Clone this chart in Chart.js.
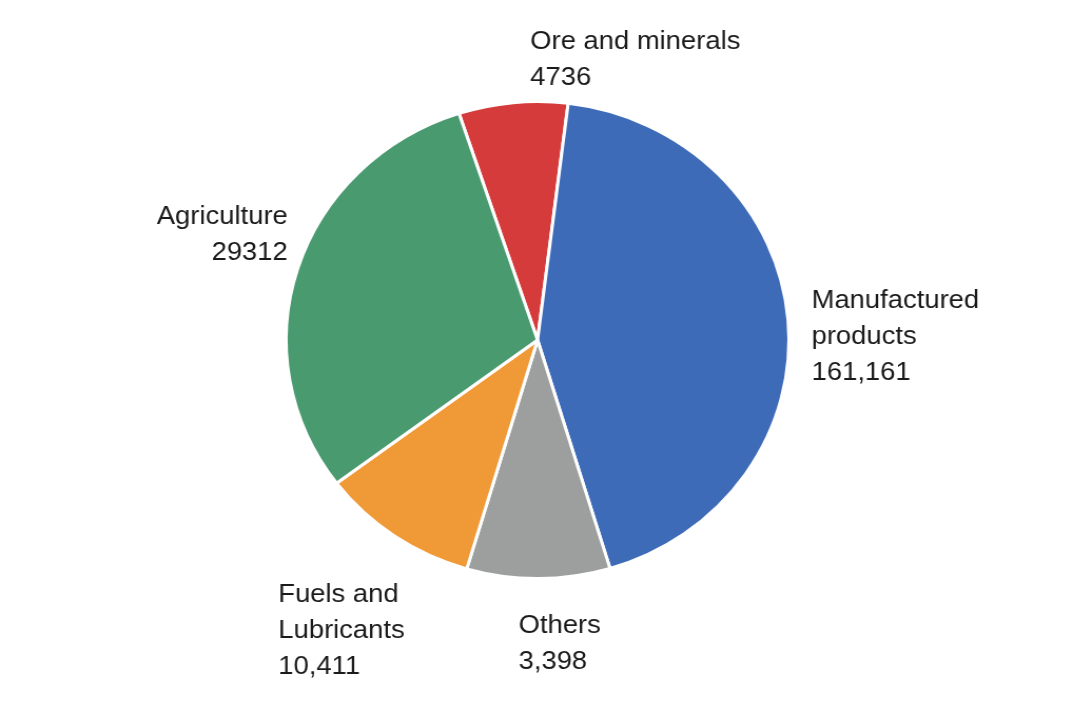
<!DOCTYPE html>
<html>
<head>
<meta charset="utf-8">
<script src="https://cdn.jsdelivr.net/npm/chart.js@4"></script>
<style>
  html, body { margin: 0; padding: 0; background: #fff; overflow: hidden; }
  /* the reference is slightly wider than tall, so the drawing is stretched a bit */
  #wrap { width: 1020px; height: 716px; transform: scaleX(1.054); transform-origin: 0 0; }
</style>
</head>
<body>
<div id="wrap"><canvas id="myChart"></canvas></div>
<script>
// Categories, clockwise from the top
const categories = ['Ore and minerals', 'Manufactured products', 'Others', 'Fuels and Lubricants', 'Agriculture'];
// Slice shares (%) as drawn in the picture
const shares = [7.0, 43.4, 9.2, 10.2, 30.2];
// Values printed next to each slice
const valueLabels = ['4736', '161,161', '3,398', '10,411', '29312'];
// How each category name is broken over lines
const nameLines = [
    ['Ore and minerals'],
    ['Manufactured', 'products'],
    ['Others'],
    ['Fuels and', 'Lubricants'],
    ['Agriculture']
];
const colors = ['#D63B3B', '#3E6BB8', '#9D9E9E', '#F09937', '#4A9A70'];

// label placement relative to pie center (x, y of first baseline) and alignment
const labelPos = [
    { dx: -7, dy: -291, align: 'left' },
    { dx: 260, dy: -32, align: 'left' },
    { dx: -18, dy: 293, align: 'left' },
    { dx: -246, dy: 262, align: 'left' },
    { dx: -237, dy: -116, align: 'right' }
];

const labelPlugin = {
    id: 'sliceLabels',
    afterDraw(chart) {
        const ctx = chart.ctx;
        const meta = chart.getDatasetMeta(0);
        ctx.save();
        ctx.font = '26px "Liberation Sans", Arial, sans-serif';
        ctx.fillStyle = '#1a1a1a';
        ctx.textBaseline = 'alphabetic';
        meta.data.forEach((arc, i) => {
            const p = labelPos[i];
            const lines = nameLines[i].concat([valueLabels[i]]);
            ctx.textAlign = p.align;
            lines.forEach((txt, j) => {
                ctx.fillText(txt, arc.x + p.dx, arc.y + p.dy + j * 36);
            });
        });
        ctx.restore();
    }
};

const config = {
    type: 'pie',
    data: {
        labels: categories,
        datasets: [{
            data: shares,
            backgroundColor: colors,
            borderColor: '#ffffff',
            borderWidth: 3
        }]
    },
    options: {
        responsive: true,
        maintainAspectRatio: false,
        animation: false,
        rotation: -18.2,
        layout: {
            padding: { top: 100, bottom: 136, left: 100, right: 100 }
        },
        plugins: {
            legend: { display: false },
            tooltip: { enabled: false }
        }
    },
    plugins: [labelPlugin]
};

const ctx = document.getElementById('myChart');
const myChart = new Chart(ctx, config);
</script>
</body>
</html>
